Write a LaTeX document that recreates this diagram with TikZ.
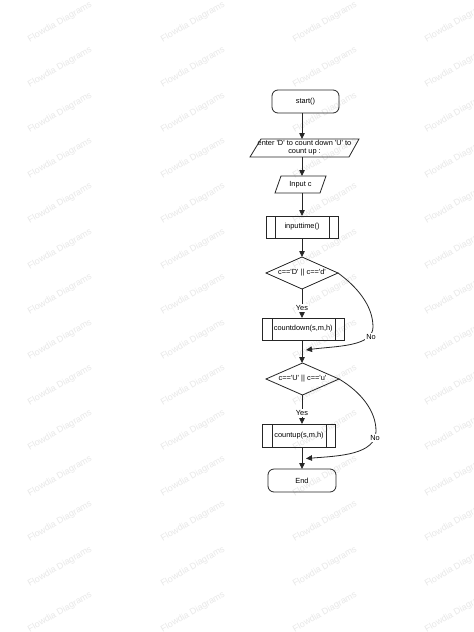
\documentclass[tikz,border=0pt]{standalone}
\usepackage{fontspec}
\setmainfont{Liberation Sans}
\usetikzlibrary{arrows.meta}
\newcommand\sq{\textquotesingle}
\begin{document}
\begin{tikzpicture}[x=1pt,y=-1pt,
  every node/.style={inner sep=0pt, outer sep=0pt},
  txt/.style={font=\fontsize{7.4}{8}\selectfont, align=center, text=black},
  ln/.style={draw=black!85, line width=0.8pt},
  arr/.style={ln, -{Triangle[length=6pt,width=5.5pt]}},
  term/.style={txt, rectangle, draw=black!85, line width=0.8pt, rounded corners=6pt},
  box/.style={txt, rectangle, draw=black!85, line width=0.8pt},
  ghost/.style={txt, rectangle},
  lbl/.style={txt, fill=white, inner sep=1pt},
  wm/.style={font=\fontsize{9}{9}\selectfont, text=black!9, rotate=30}
]
\path[use as bounding box] (0,0) rectangle (474,632);
\fill[white] (0,0) rectangle (474,632);
% watermark
\begin{scope}
\clip (0,0) rectangle (474,632);
\foreach \cx in {60,193,325,457}{
  \foreach \k in {0,...,13}{
    \node[wm] (wm-\cx-\k) at (\cx,{22+45.4*\k}) {Flowdia Diagrams};
  }
}
\end{scope}
\coordinate (sp) at (302,0);
% nodes
\node[term, minimum width=67pt, minimum height=23pt] (start) at (305.5,101.5) {start()};
\node[ghost, minimum width=109pt, minimum height=18pt] (enter) at (304.5,148) {enter \sq D\sq{} to count down \sq U\sq{} to\\count up :};
\draw[ln] ([xshift=11pt]enter.north west) -- (enter.north east) -- ([xshift=-10pt]enter.south east) -- (enter.south west) -- cycle;
\node[ghost, minimum width=51pt, minimum height=17pt] (inp) at (300.5,184.5) {Input c};
\draw[ln] ([xshift=6pt]inp.north west) -- (inp.north east) -- ([xshift=-6pt]inp.south east) -- (inp.south west) -- cycle;
\node[box, minimum width=72pt, minimum height=22pt] (it) at (302,227) {inputtime()};
\draw[ln] ([xshift=9pt]it.north west) -- ([xshift=9pt]it.south west);
\draw[ln] ([xshift=-9pt]it.north east) -- ([xshift=-9pt]it.south east);
\node[ghost, minimum width=72pt, minimum height=32pt] (d1) at (302,273) {c==\sq D\sq{} || c==\sq d\sq};
\draw[ln] (d1.north) -- (d1.east) -- (d1.south) -- (d1.west) -- cycle;
\node[box, minimum width=81.5pt, minimum height=22pt] (cd) at (303.25,329) {countdown(s,m,h)};
\draw[ln] ([xshift=9.5pt]cd.north west) -- ([xshift=9.5pt]cd.south west);
\draw[ln] ([xshift=-9pt]cd.north east) -- ([xshift=-9pt]cd.south east);
\node[ghost, minimum width=73pt, minimum height=32pt] (d2) at (302.5,379) {c==\sq U\sq{} || c==\sq u\sq};
\draw[ln] (d2.north) -- (d2.east) -- (d2.south) -- (d2.west) -- cycle;
\node[box, minimum width=73pt, minimum height=23pt] (cu) at (299,435.5) {countup(s,m,h)};
\draw[ln] ([xshift=10pt]cu.north west) -- ([xshift=10pt]cu.south west);
\draw[ln] ([xshift=-9.5pt]cu.north east) -- ([xshift=-9.5pt]cu.south east);
\node[term, minimum width=68pt, minimum height=23pt] (end) at (302,480.5) {End};
% connectors
\draw[arr] (start.south -| sp) -- (enter.north -| sp);
\draw[arr] (enter.south -| sp) -- (inp.north -| sp);
\draw[arr] (inp.south -| sp) -- (it.north -| sp);
\draw[arr] (it.south -| sp) -- (d1.north -| sp);
\draw[arr] (d1.south -| sp) -- node[lbl, pos=0.655] (yes1) {Yes} (cd.north -| sp);
\draw[arr] (cd.south -| sp) -- (d2.north -| sp);
\draw[arr] (d2.south -| sp) -- node[lbl, pos=0.62] (yes2) {Yes} (cu.north -| sp);
\draw[arr] (cu.south -| sp) -- (end.north -| sp);
\coordinate (j1) at (306,350);
\coordinate (j2) at (306,458.5);
\draw[arr] (d1.east) .. controls (356,286) and (373,305) .. (373,327) .. controls (373,347) and (335,346) .. (j1);
\node[lbl] (no1) at (371,337) {No};
\draw[arr] (d2.east) .. controls (361,392) and (376,411) .. (376,431) .. controls (376,455) and (338,456) .. (j2);
\node[lbl] (no2) at (375,438) {No};
\end{tikzpicture}
\end{document}
